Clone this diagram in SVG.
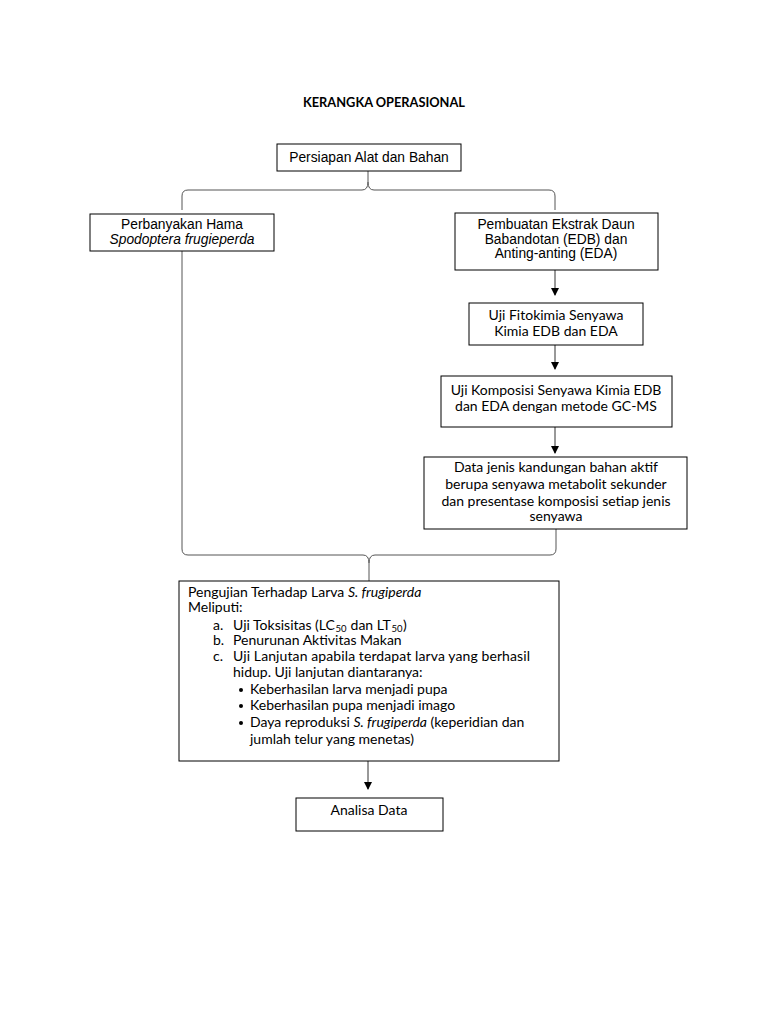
<svg xmlns="http://www.w3.org/2000/svg" width="768" height="1024" viewBox="0 0 768 1024">
<style>
.box{fill:#fff;stroke:#000;stroke-width:1}
.ar{font-family:"Liberation Sans",Arial,sans-serif;font-size:13.8px;fill:#000}
.ca{font-family:Lato,"Open Sans",sans-serif;font-size:14px;fill:#000}
.t{text-anchor:middle}
.ln{fill:none;stroke:#333;stroke-width:1}
.br{fill:none;stroke:#555;stroke-width:1}
.sub{font-size:9.5px}
</style>
<defs>
<marker id="ah" markerWidth="8" markerHeight="8" refX="7" refY="4" orient="auto" markerUnits="userSpaceOnUse">
<path d="M0,0 L8,4 L0,8 Z" fill="#000"/>
</marker>
</defs>
<rect width="768" height="1024" fill="#fff"/>
<text id="title" x="384" y="107" class="ca t" style="font-weight:bold;font-size:12.8px">KERANGKA OPERASIONAL</text>

<g id="connectors">
<path class="br" d="M368,171 V182 M182,210 V196 Q182,190 188,190 H362 Q368,190 368,182 Q368,190 374,190 H549 Q555,190 555,196 V210"/>
<path class="br" d="M182,251 V549 Q182,555 188,555 H363 Q369,555 369,563 Q369,555 375,555 H550 Q556,555 556,549 V529 M369,563 V581"/>
<line class="ln" x1="555" y1="270" x2="555" y2="295" marker-end="url(#ah)"/>
<line class="ln" x1="555" y1="345" x2="555" y2="369" marker-end="url(#ah)"/>
<line class="ln" x1="555" y1="427" x2="555" y2="453" marker-end="url(#ah)"/>
<line class="ln" x1="368" y1="761" x2="368" y2="789" marker-end="url(#ah)"/>
</g>

<g id="n_persiapan">
<rect class="box" x="277" y="144" width="184" height="27"/>
<text class="ar t" x="369" y="162">Persiapan Alat dan Bahan</text>
</g>

<g id="n_perbanyakan">
<rect class="box" x="90" y="214" width="184" height="37"/>
<text class="ar t" x="182" y="229">Perbanyakan Hama</text>
<text class="ar t" x="182" y="244" font-style="italic">Spodoptera frugieperda</text>
</g>

<g id="n_pembuatan">
<rect class="box" x="455" y="213" width="203" height="57"/>
<text class="ar t" x="556" y="229">Pembuatan Ekstrak Daun</text>
<text class="ar t" x="556" y="244">Babandotan (EDB) dan</text>
<text class="ar t" x="556" y="258">Anting-anting (EDA)</text>
</g>

<g id="n_fitokimia">
<rect class="box" x="469" y="303" width="174" height="42"/>
<text class="ca t" x="556" y="320">Uji Fitokimia Senyawa</text>
<text class="ca t" x="556" y="336">Kimia EDB dan EDA</text>
</g>

<g id="n_komposisi">
<rect class="box" x="441" y="376" width="231" height="51"/>
<text class="ca t" x="556" y="395">Uji Komposisi Senyawa Kimia EDB</text>
<text class="ca t" x="556" y="411">dan EDA dengan metode GC-MS</text>
</g>

<g id="n_data">
<rect class="box" x="424" y="457" width="263" height="72"/>
<text class="ca t" x="556" y="472">Data jenis kandungan bahan aktif</text>
<text class="ca t" x="556" y="489">berupa senyawa metabolit sekunder</text>
<text class="ca t" x="556" y="506">dan presentase komposisi setiap jenis</text>
<text class="ca t" x="556" y="521">senyawa</text>
</g>

<g id="n_pengujian">
<rect class="box" x="179" y="581" width="380" height="180"/>
<text class="ca" x="188" y="597">Pengujian Terhadap Larva <tspan font-style="italic">S. frugiperda</tspan></text>
<text class="ca" x="188" y="612">Meliputi:</text>
<text class="ca" x="213" y="630">a.</text>
<text class="ca" x="233" y="630">Uji Toksisitas (LC<tspan class="sub" dx="0.6" baseline-shift="-2">50</tspan><tspan dx="0.4"> dan LT</tspan><tspan class="sub" dx="0.6" baseline-shift="-2">50</tspan><tspan dx="0.4">)</tspan></text>
<text class="ca" x="213" y="645">b.</text>
<text class="ca" x="233" y="645">Penurunan Aktivitas Makan</text>
<text class="ca" x="213" y="661">c.</text>
<text class="ca" x="233" y="661" textLength="297" lengthAdjust="spacing">Uji Lanjutan apabila terdapat larva yang berhasil</text>
<text class="ca" x="233" y="677">hidup. Uji lanjutan diantaranya:</text>
<circle cx="241" cy="690" r="2"/>
<text class="ca" x="250" y="694">Keberhasilan larva menjadi pupa</text>
<circle cx="241" cy="706" r="2"/>
<text class="ca" x="250" y="710">Keberhasilan pupa menjadi imago</text>
<circle cx="241" cy="723" r="2"/>
<text class="ca" x="250" y="727">Daya reproduksi <tspan font-style="italic">S. frugiperda</tspan> (keperidian dan</text>
<text class="ca" x="250" y="744">jumlah telur yang menetas)</text>
</g>

<g id="n_analisa">
<rect class="box" x="296" y="798" width="147" height="33"/>
<text class="ca t" x="369" y="815">Analisa Data</text>
</g>
</svg>
